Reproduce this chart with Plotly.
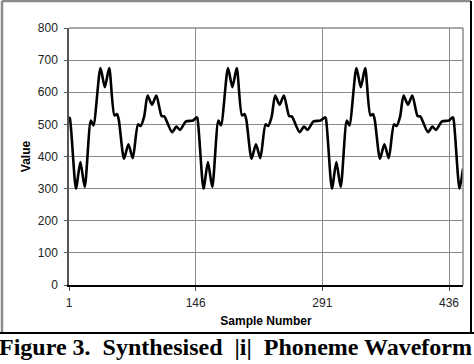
import plotly.graph_objects as go

# ---- data (key samples of the waveform) ----
sample_number = [
    1, 2, 9, 14, 19, 26, 29, 37, 42, 47, 53, 56, 58, 64, 69, 74, 80, 83, 87, 91,
    96, 101, 107, 110, 119, 124, 128, 135, 143,
    147, 148, 155, 160, 165, 172, 175, 183, 188, 193, 199, 202, 204, 210, 215, 220,
    226, 229, 233, 237, 242, 247, 253, 256, 265, 270, 274, 281, 289,
    294, 295, 302, 307, 312, 319, 322, 330, 335, 340, 346, 349, 351, 357, 362, 367,
    373, 376, 380, 384, 389, 394, 400, 403, 412, 417, 421, 428, 436,
    440, 441, 448, 452,
]
value = [
    522, 519, 300, 383, 305, 512, 497, 675, 616, 675, 528, 532, 514, 393, 438, 395,
    500, 495, 524, 590, 561, 590, 526, 525, 476, 493, 483, 509, 512,
    522, 519, 300, 383, 305, 512, 497, 675, 616, 675, 528, 532, 514, 393, 438, 395,
    500, 495, 524, 590, 561, 590, 526, 525, 476, 493, 483, 509, 512,
    522, 519, 300, 383, 305, 512, 497, 675, 616, 675, 528, 532, 514, 393, 438, 395,
    500, 495, 524, 590, 561, 590, 526, 525, 476, 493, 483, 509, 512,
    522, 519, 300, 362,
]
x_ticks = [1, 146, 291, 436]
x_tick_labels = ["1", "146", "291", "436"]
y_ticks = [0, 100, 200, 300, 400, 500, 600, 700, 800]
x_title = "Sample Number"
y_title = "Value"
caption = "Figure 3.\u00a0 Synthesised\u00a0 |i|\u00a0 Phoneme Waveform"

# ---- layout geometry (pixels) ----
W, H = 474, 364
L, R, T, B = 69, 11, 28, 79
PW, PH = W - L - R, H - T - B


def xp(px):
    return (px - L) / PW


def yp(py):
    return (H - B - py) / PH


fig = go.Figure()
fig.add_trace(go.Scatter(
    x=sample_number, y=value, mode="lines",
    line=dict(color="black", width=2.6, shape="spline", smoothing=0.7),
    hoverinfo="skip", showlegend=False,
))

axis_font = dict(family="Liberation Sans, Arial", size=12, color="#222")
title_font = dict(family="Liberation Sans, Arial", size=12, color="black")
fig.update_layout(
    width=W, height=H,
    margin=dict(l=L, r=R, t=T, b=B),
    paper_bgcolor="white", plot_bgcolor="white",
    xaxis=dict(
        range=[1, 452], tickvals=x_ticks, ticktext=x_tick_labels,
        showgrid=True, gridcolor="#8a8a8a", gridwidth=1,
        showline=True, linecolor="black", linewidth=1.5,
        ticks="outside", ticklen=4, tickcolor="#555",
        ticklabelstandoff=2,
        tickfont=axis_font, zeroline=False,
        title=dict(text="<b>" + x_title + "</b>", font=title_font, standoff=7),
    ),
    yaxis=dict(
        range=[0, 800], tickvals=y_ticks,
        showgrid=True, gridcolor="#8a8a8a", gridwidth=1,
        showline=True, linecolor="#555", linewidth=1.5,
        ticks="outside", ticklen=3, tickcolor="#555",
        ticklabelstandoff=4,
        tickfont=axis_font, zeroline=False,
        title=dict(text="<b>" + y_title + "</b>", font=title_font, standoff=5),
    ),
)

shapes = [
    # plot area top/right border
    dict(type="line", xref="paper", yref="paper", x0=0, x1=1, y0=1, y1=1, line=dict(color="#8a8a8a", width=1.5)),
    dict(type="line", xref="paper", yref="paper", x0=1, x1=1, y0=0, y1=1, line=dict(color="#8a8a8a", width=1.5)),
    # outer frame
    dict(type="line", xref="paper", yref="paper", x0=xp(2), x1=xp(2), y0=yp(1), y1=yp(333), line=dict(color="#8a8a8a", width=2.5)),
    dict(type="line", xref="paper", yref="paper", x0=xp(2), x1=xp(471), y0=yp(1), y1=yp(1), line=dict(color="#8a8a8a", width=2.5)),
    dict(type="line", xref="paper", yref="paper", x0=xp(471), x1=xp(471), y0=yp(1), y1=yp(333), line=dict(color="black", width=2)),
    dict(type="line", xref="paper", yref="paper", x0=xp(0), x1=xp(474), y0=yp(333), y1=yp(333), line=dict(color="black", width=2)),
]
fig.update_layout(shapes=shapes)

fig.add_annotation(
    text="<b>" + caption + "</b>", xref="paper", yref="paper",
    x=xp(235), y=yp(347), xanchor="center", yanchor="middle", showarrow=False,
    font=dict(family="Liberation Serif, DejaVu Serif", size=24, color="black"),
)

fig.write_html(
    "out.html",
    config={"displayModeBar": False},
    post_script="document.body.style.margin='0';document.body.style.overflow='hidden';",
)
